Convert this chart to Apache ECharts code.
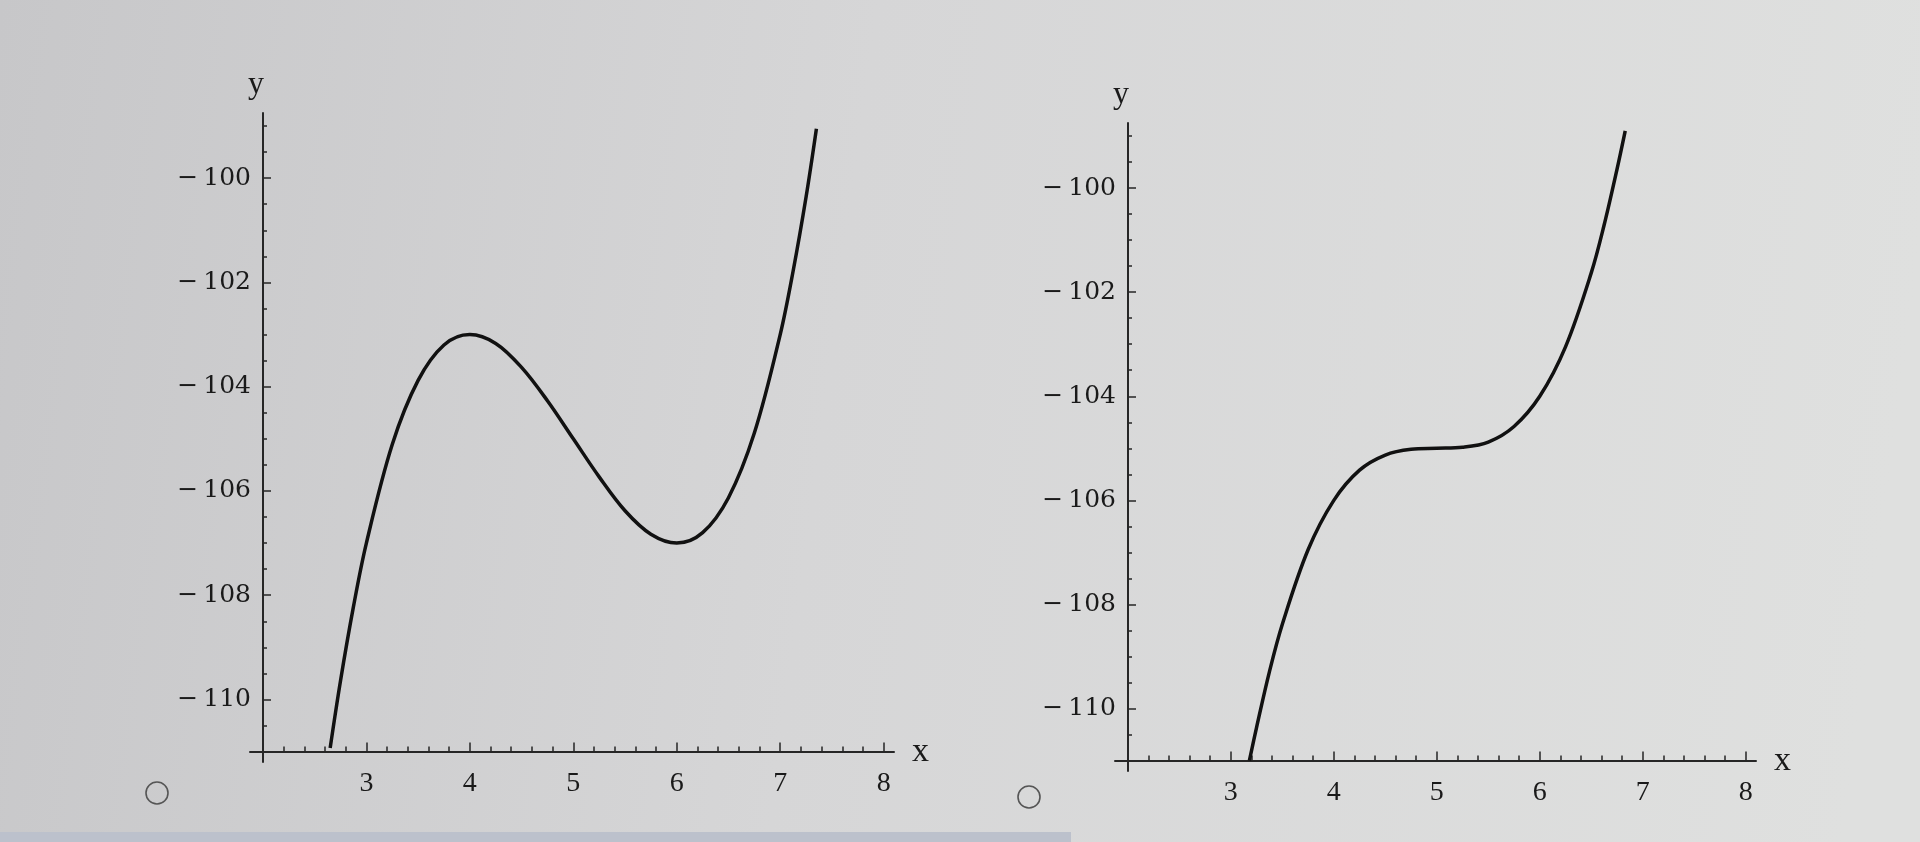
<!DOCTYPE html>
<html>
<head>
<meta charset="utf-8">
<script src="https://cdn.jsdelivr.net/npm/echarts@6/dist/echarts.min.js"></script>
<style>
html,body{margin:0;padding:0;width:1920px;height:842px;overflow:hidden;}
#chart{width:1920px;height:842px;}
</style>
</head>
<body>
<div id="chart"></div>
<script>
// ---- data ----
const leftX = [2.65, 2.75, 2.875, 3.0, 3.25, 3.5, 3.75, 4.0, 4.25, 4.5, 4.75, 5.0, 5.25, 5.5, 5.75, 6.0, 6.25, 6.5, 6.75, 7.0, 7.125, 7.25, 7.35];
const leftY = [-110.93, -109.64, -108.22, -107.0, -105.11, -103.88, -103.2, -103.0, -103.17, -103.63, -104.27, -105.0, -105.73, -106.38, -106.83, -107.0, -106.8, -106.13, -104.89, -103.0, -101.78, -100.36, -99.05];

const rightX = [3.18, 3.25, 3.375, 3.5, 3.75, 4.0, 4.25, 4.5, 4.75, 5.0, 5.25, 5.5, 5.75, 6.0, 6.25, 6.5, 6.625, 6.75, 6.83];
const rightY = [-111.0, -110.36, -109.29, -108.38, -106.95, -106.0, -105.42, -105.13, -105.02, -105.0, -104.98, -104.88, -104.58, -104.0, -103.05, -101.63, -100.71, -99.64, -98.9];

const xMajorTicks = [3, 4, 5, 6, 7, 8];
const xMinorTicks = [2.2, 2.4, 2.6, 2.8, 3.2, 3.4, 3.6, 3.8, 4.2, 4.4, 4.6, 4.8, 5.2, 5.4, 5.6, 5.8, 6.2, 6.4, 6.6, 6.8, 7.2, 7.4, 7.6, 7.8];
const yMajorTicks = [-110, -108, -106, -104, -102, -100];
const yMinorTicks = [-110.5, -109.5, -109, -108.5, -107.5, -107, -106.5, -105.5, -105, -104.5, -103.5, -103, -102.5, -101.5, -101, -100.5, -99.5, -99];

const xRange = [1.875, 8.1];
const yRange = [-111.2, -98.75];
const xAxisTitle = 'x';
const yAxisTitle = 'y';

// ---- styling / layout ----
const ink = '#1a1a1a';
const axisInk = '#262626';
const grids = [
  {left: 250, top: 113, width: 644, height: 649},
  {left: 1115, top: 123, width: 641, height: 648}
];
const xOff = [-13, -13];     // puts y axis at x = 2
const yOff = [-10.4, -10.4]; // puts x axis at y = -111

const xAxes = [], yAxes = [], series = [];
grids.forEach((g, i) => {
  xAxes.push({
    gridIndex: i, type: 'value', min: xRange[0], max: xRange[1], position: 'bottom', offset: yOff[i],
    axisLine: {show: true, onZero: false, lineStyle: {color: axisInk, width: 2}},
    axisTick: {show: true, inside: true, length: 5, customValues: xMinorTicks, lineStyle: {color: axisInk, width: 1.5}},
    axisLabel: {show: false}, splitLine: {show: false},
    name: xAxisTitle, nameLocation: 'end', nameGap: 18,
    nameTextStyle: {fontFamily: 'Liberation Serif', fontSize: 34, color: ink, padding: [12, 0, 0, 0]}
  });
  xAxes.push({
    gridIndex: i, type: 'value', min: xRange[0], max: xRange[1], position: 'bottom', offset: yOff[i],
    axisLine: {show: false, onZero: false},
    axisTick: {show: true, inside: true, length: 9, customValues: xMajorTicks, lineStyle: {color: axisInk, width: 1.5}},
    axisLabel: {show: true, customValues: xMajorTicks, margin: 18, fontFamily: 'Liberation Serif', fontSize: 28, color: ink},
    splitLine: {show: false}
  });
  yAxes.push({
    gridIndex: i, type: 'value', min: yRange[0], max: yRange[1], position: 'left', offset: xOff[i],
    axisLine: {show: true, onZero: false, lineStyle: {color: axisInk, width: 2}},
    axisTick: {show: true, inside: true, length: 4, customValues: yMinorTicks, lineStyle: {color: axisInk, width: 1.5}},
    axisLabel: {show: false}, splitLine: {show: false},
    name: yAxisTitle, nameLocation: 'end', nameGap: 12,
    nameTextStyle: {fontFamily: 'Liberation Serif', fontSize: 32, color: ink, padding: [0, 14, 0, 0]}
  });
  yAxes.push({
    gridIndex: i, type: 'value', min: yRange[0], max: yRange[1], position: 'left', offset: xOff[i],
    axisLine: {show: false, onZero: false},
    axisTick: {show: true, inside: true, length: 8, customValues: yMajorTicks, lineStyle: {color: axisInk, width: 1.5}},
    axisLabel: {show: true, customValues: yMajorTicks, margin: 12, fontFamily: 'DejaVu Serif', fontSize: 25, color: ink,
      formatter: v => '\u2212\u2009' + Math.abs(v)},
    splitLine: {show: false}
  });
});

series.push({
  type: 'line', xAxisIndex: 0, yAxisIndex: 0, smooth: 0.35, showSymbol: false, silent: true, clip: true,
  data: leftX.map((x, k) => [x, leftY[k]]),
  lineStyle: {color: '#111', width: 3.5}
});
series.push({
  type: 'line', xAxisIndex: 2, yAxisIndex: 2, smooth: 0.35, showSymbol: false, silent: true, clip: true,
  data: rightX.map((x, k) => [x, rightY[k]]),
  lineStyle: {color: '#111', width: 3.5}
});

const chart = echarts.init(document.getElementById('chart'), null, {renderer: 'canvas'});
chart.setOption({
  animation: false,
  backgroundColor: {
    type: 'linear', x: 0, y: 0, x2: 1, y2: 0.3,
    colorStops: [
      {offset: 0, color: '#c7c7c9'},
      {offset: 0.45, color: '#d6d6d7'},
      {offset: 1, color: '#dfe0df'}
    ]
  },
  grid: grids,
  xAxis: xAxes,
  yAxis: yAxes,
  series: series,
  graphic: [
    {type: 'rect', left: 0, top: 832, shape: {width: 1071, height: 10}, style: {fill: '#bcc1cc'}},
    {type: 'circle', shape: {cx: 157, cy: 793, r: 11}, style: {fill: 'none', stroke: '#555', lineWidth: 1.6}},
    {type: 'circle', shape: {cx: 1029, cy: 797, r: 11}, style: {fill: 'none', stroke: '#555', lineWidth: 1.6}}
  ]
});
</script>
</body>
</html>
